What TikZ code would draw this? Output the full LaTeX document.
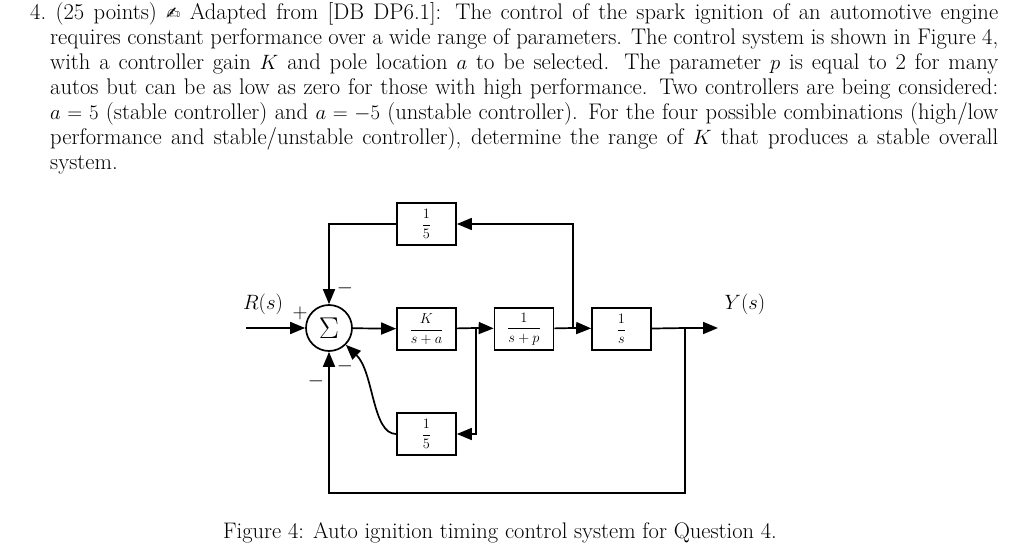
\documentclass[tikz,border=0pt]{standalone}
\usepackage{fontspec}
\usepackage{graphicx}
\newfontfamily\dvfont{DejaVu Sans}
\usetikzlibrary{arrows.meta}
\begin{document}
\begin{tikzpicture}[x=1pt,y=-1pt,
  blk/.style={draw,line width=1.7pt,minimum width=59pt,minimum height=42pt,inner sep=0pt,font=\fontsize{15.5pt}{18pt}\selectfont},
  ln/.style={line width=1.7pt},
  ar/.style={ln,-{Triangle[length=15pt,width=12pt]}},
  lbl/.style={font=\fontsize{22.5pt}{26pt}\selectfont}]
\useasboundingbox (0,0) rectangle (1024,556);
\node[anchor=north west,inner sep=0pt,text width=968pt,align=justify,font=\fontsize{22.6pt}{25pt}\selectfont] (txt) at (30,2)
{\hangindent=20pt\hangafter=1\noindent
4.\ (25 points) {\dvfont\fontsize{17pt}{20pt}\selectfont ✍} Adapted from [DB DP6.1]: The control of the spark ignition of an automotive engine\linebreak
requires constant performance over a wide range of parameters. The control system is shown in Figure 4,\linebreak
with a controller gain $K$ and pole location $a$ to be selected. The parameter $p$ is equal to 2 for many\linebreak
autos but can be as low as zero for those with high performance. Two controllers are being considered:\linebreak
$a=5$ (stable controller) and $a=-5$ (unstable controller). For the four possible combinations (high/low\linebreak
performance and stable/unstable controller), determine the range of $K$ that produces a stable overall\linebreak
system.\par};
\node[draw,circle,line width=1.7pt,minimum size=46pt,inner sep=0pt,lbl] (sum) at (329,328) {\scalebox{1.45}{$\Sigma$}};
\node[blk] (c) at (426.5,329) {$\displaystyle\frac{K}{s+a}$};
\node[blk] (g) at (524,329) {$\displaystyle\frac{1}{s+p}$};
\node[blk] (i) at (621.5,329) {$\displaystyle\frac{1}{s}$};
\node[blk] (ht) at (426.5,224) {$\displaystyle\frac{1}{5}$};
\node[blk] (hb) at (426.5,434) {$\displaystyle\frac{1}{5}$};
\coordinate (in) at (246,328);
\coordinate (b1) at (476,328);
\coordinate (b2) at (573,328);
\coordinate (b3) at (685,328);
\coordinate (out) at (718,328);
\draw[ar] (in) -- (sum);
\draw[ar] (sum) -- (c);
\draw[ln] (c) -- (b1);
\draw[ar] (b1) -- (g);
\draw[ln] (g) -- (b2);
\draw[ar] (b2) -- (i);
\draw[ln] (i) -- (b3);
\draw[ar] (b3) -- (out);
\draw[ar] (b2) |- (ht);
\draw[ar] (ht) -| (sum);
\draw[ar] (b1) |- (hb);
\draw[ar] (hb.west) .. controls (372,434) and (374,372) .. (sum.-45);
\draw[ar] (b3) |- (329,493) -- (sum);
\node[lbl] (r) at (263,304) {$R(s)$};
\node[lbl] (y) at (745,304) {$Y(s)$};
\node[lbl] (p) at (300,313) {$+$};
\node[lbl] (m1) at (345,288) {$-$};
\node[lbl] (m2) at (345,366) {$-$};
\node[lbl] (m3) at (316,381) {$-$};
\node[lbl] (cap) at (500,533) {Figure 4: Auto ignition timing control system for Question 4.};
\end{tikzpicture}
\end{document}
